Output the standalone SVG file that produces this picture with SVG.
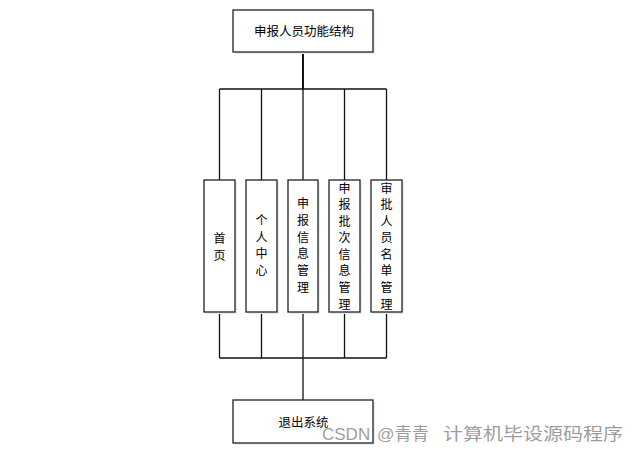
<svg xmlns="http://www.w3.org/2000/svg" width="639" height="452" viewBox="0 0 639 452">
<style>
.box{fill:#fff;stroke:#222;stroke-width:1.3}
.shadow{fill:#e8ecf2}
.t{font-family:"Noto Sans CJK SC","Liberation Sans",sans-serif;font-size:12.5px;fill:#000;text-anchor:middle}
.v{font-size:12px}
.ln{stroke:#111;stroke-width:1.3;fill:none}
.wm{font-family:"Liberation Sans","Noto Sans CJK SC",sans-serif;font-size:17px;fill:#8a8a8a;fill-opacity:0.85}
</style>
<rect width="639" height="452" fill="#fff"/>
<g id="connectors">
<line class="ln" x1="303" y1="52" x2="303" y2="89" style="stroke-width:2"/>
<line class="ln" x1="219.5" y1="89" x2="386.5" y2="89"/>
<line class="ln" x1="219.5" y1="89" x2="219.5" y2="180"/>
<line class="ln" x1="261.5" y1="89" x2="261.5" y2="180"/>
<line class="ln" x1="303" y1="89" x2="303" y2="180"/>
<line class="ln" x1="344.5" y1="89" x2="344.5" y2="180"/>
<line class="ln" x1="386.5" y1="89" x2="386.5" y2="180"/>
<line class="ln" x1="219.5" y1="312" x2="219.5" y2="358"/>
<line class="ln" x1="261.5" y1="312" x2="261.5" y2="358"/>
<line class="ln" x1="303" y1="312" x2="303" y2="400"/>
<line class="ln" x1="344.5" y1="312" x2="344.5" y2="358"/>
<line class="ln" x1="386.5" y1="312" x2="386.5" y2="358"/>
<line class="ln" x1="219.5" y1="358" x2="386.5" y2="358"/>
</g>
<g id="top">
<rect class="shadow" x="235" y="12" width="140" height="42"/>
<rect class="box" x="233" y="10" width="140" height="42"/>
<text class="t" x="304" y="36">申报人员功能结构</text>
</g>
<g id="n1">
<rect class="shadow" x="206" y="182" width="31" height="132"/>
<rect class="box" x="204" y="180" width="31" height="132"/>
<text class="t v" x="219.5" y="243">首</text>
<text class="t v" x="219.5" y="260">页</text>
</g>
<g id="n2">
<rect class="shadow" x="248" y="182" width="31" height="132"/>
<rect class="box" x="246" y="180" width="31" height="132"/>
<text class="t v" x="261.5" y="225">个</text>
<text class="t v" x="261.5" y="242">人</text>
<text class="t v" x="261.5" y="258">中</text>
<text class="t v" x="261.5" y="275">心</text>
</g>
<g id="n3">
<rect class="shadow" x="290" y="182" width="30" height="132"/>
<rect class="box" x="288" y="180" width="30" height="132"/>
<text class="t v" x="303" y="208">申</text>
<text class="t v" x="303" y="225">报</text>
<text class="t v" x="303" y="242">信</text>
<text class="t v" x="303" y="258">息</text>
<text class="t v" x="303" y="275">管</text>
<text class="t v" x="303" y="292">理</text>
</g>
<g id="n4">
<rect class="shadow" x="331" y="182" width="31" height="132"/>
<rect class="box" x="329" y="180" width="31" height="132"/>
<text class="t v" x="344.5" y="193">申</text>
<text class="t v" x="344.5" y="209">报</text>
<text class="t v" x="344.5" y="226">批</text>
<text class="t v" x="344.5" y="242">次</text>
<text class="t v" x="344.5" y="259">信</text>
<text class="t v" x="344.5" y="275">息</text>
<text class="t v" x="344.5" y="292">管</text>
<text class="t v" x="344.5" y="309">理</text>
</g>
<g id="n5">
<rect class="shadow" x="373" y="182" width="31" height="132"/>
<rect class="box" x="371" y="180" width="31" height="132"/>
<text class="t v" x="386.5" y="193">审</text>
<text class="t v" x="386.5" y="209">批</text>
<text class="t v" x="386.5" y="226">人</text>
<text class="t v" x="386.5" y="242">员</text>
<text class="t v" x="386.5" y="259">名</text>
<text class="t v" x="386.5" y="275">单</text>
<text class="t v" x="386.5" y="292">管</text>
<text class="t v" x="386.5" y="309">理</text>
</g>
<g id="bottom">
<rect class="shadow" x="235" y="402" width="140" height="43"/>
<rect class="box" x="233" y="400" width="140" height="43"/>
<text class="t" x="303.5" y="427">退出系统</text>
</g>
<text class="wm" y="440"><tspan x="322">CSDN</tspan><tspan x="377" textLength="52" lengthAdjust="spacingAndGlyphs">@青青</tspan><tspan x="443" textLength="180" lengthAdjust="spacingAndGlyphs">计算机毕设源码程序</tspan></text>
</svg>
